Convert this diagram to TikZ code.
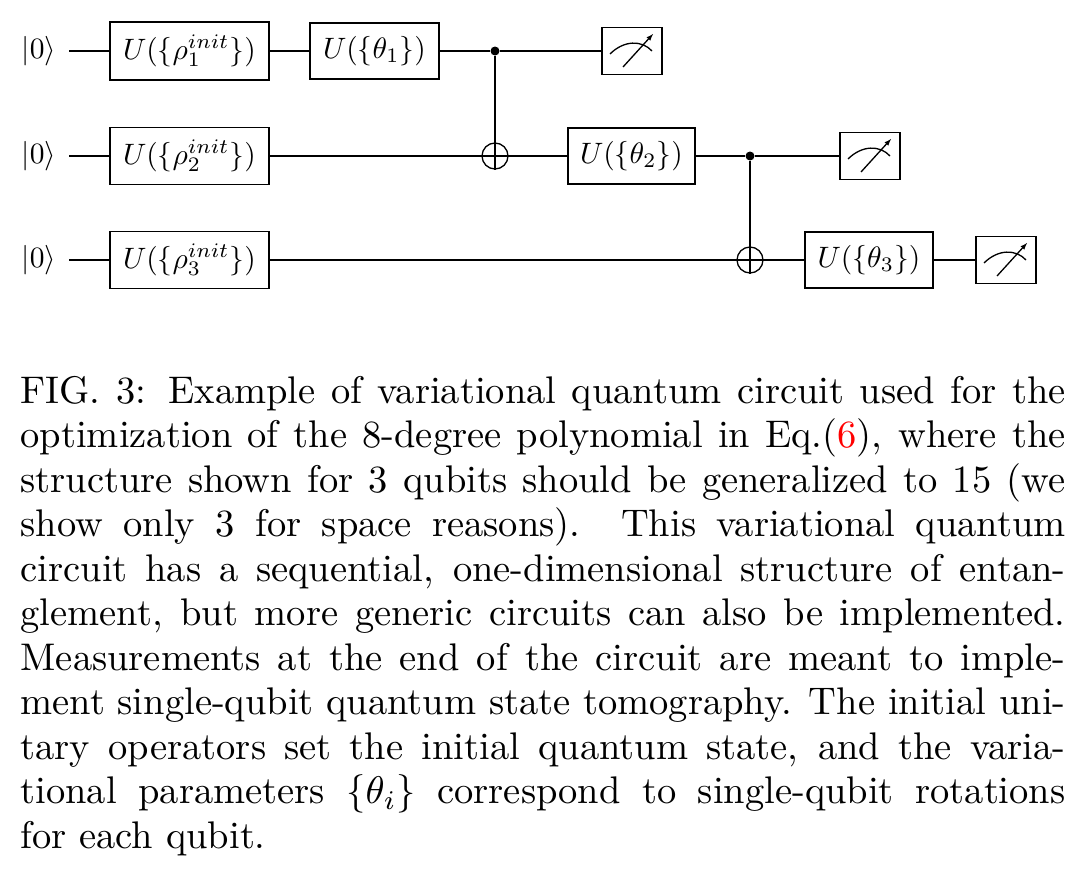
\documentclass[tikz,border=0pt]{standalone}
\usepackage{graphicx}
\usepackage{xcolor}
\newcommand{\qmath}[1]{\scalebox{2.95}{$#1$}}
\begin{document}
\begin{tikzpicture}[x=1pt,y=-1pt,line width=1.3pt,
  gate/.style={draw,rectangle,inner sep=0pt},
  meter/.style={draw,rectangle,minimum width=60pt,minimum height=47pt,inner sep=0pt},
  ket/.style={},
  capline/.style={anchor=base west,inner sep=0pt}]
\useasboundingbox (0,0) rectangle (1084,870);
% kets
\node[ket] (k1) at (39,51) {\qmath{|0\rangle}};
\node[ket] (k2) at (39,156) {\qmath{|0\rangle}};
\node[ket] (k3) at (39,260) {\qmath{|0\rangle}};
\coordinate (s1) at (69,51);\coordinate (s2) at (69,156);\coordinate (s3) at (69,260);
\node[gate,minimum width=159pt,minimum height=58pt] (r1) at (189.5,51) {\qmath{U(\{\rho_1^{init}\})}};
\node[gate,minimum width=159pt,minimum height=57pt] (r2) at (189.5,156) {\qmath{U(\{\rho_2^{init}\})}};
\node[gate,minimum width=159pt,minimum height=57pt] (r3) at (189.5,260) {\qmath{U(\{\rho_3^{init}\})}};
\node[gate,minimum width=129pt,minimum height=56pt] (t1) at (374.5,51) {\qmath{U(\{\theta_1\})}};
\node[gate,minimum width=127pt,minimum height=56pt] (t2) at (631.5,156) {\qmath{U(\{\theta_2\})}};
\node[gate,minimum width=128pt,minimum height=56pt] (t3) at (869,260) {\qmath{U(\{\theta_3\})}};
\node[meter] (m1) at (632,51) {};
\node[meter] (m2) at (870,156) {};
\node[meter] (m3) at (1006,260) {};
\foreach \m in {m1,m2,m3}{
  \draw ([shift={(-22pt,-3pt)}]\m.center) .. controls ([shift={(-8pt,11pt)}]\m.center) and ([shift={(10pt,11pt)}]\m.center) .. ([shift={(20pt,0pt)}]\m.center);
  \draw[-{latex}] ([shift={(-9pt,-16pt)}]\m.center) -- ([shift={(21pt,17pt)}]\m.center);
}
% controls
\node[circle,fill,inner sep=0pt,minimum size=9pt] (c1) at (495,51) {};
\node[circle,draw,inner sep=0pt,minimum size=26pt] (x1) at (495,156) {};
\node[circle,fill,inner sep=0pt,minimum size=9pt] (c2) at (750,156) {};
\node[circle,draw,inner sep=0pt,minimum size=26pt] (x2) at (750,260) {};
\draw (s1) -- (r1) -- (t1) -- (c1) -- (m1);
\draw (s2) -- (r2) -- (x1.west) (x1.east) -- (t2) -- (c2) -- (m2);
\draw (s3) -- (r3) -- (x2.west) (x2.east) -- (t3) -- (m3);
\draw (c1) -- (x1.south) (x1.west) -- (x1.east);
\draw (c2) -- (x2.south) (x2.west) -- (x2.east);
% caption
\foreach \t [count=\i from 0] in {
 {FIG. 3: Example of variational quantum circuit used for the},
 {optimization of the 8-degree polynomial in Eq.(\textcolor{red}{6}), where the},
 {structure shown for 3 qubits should be generalized to 15 (we},
 {show only 3 for space reasons).\ \ This variational quantum},
 {circuit has a sequential, one-dimensional structure of entan-},
 {glement, but more generic circuits can also be implemented.},
 {Measurements at the end of the circuit are meant to imple-},
 {ment single-qubit quantum state tomography. The initial uni-},
 {tary operators set the initial quantum state, and the varia-},
 {tional parameters $\{\theta_i\}$ correspond to single-qubit rotations}}
 \node[capline] (cap\i) at (20,{403+44.5*\i}) {\scalebox{3.85}{\makebox[271.4pt][s]{\t}}};
\node[capline] (cap10) at (20,848) {\scalebox{3.85}{for each qubit.}};
\end{tikzpicture}
\end{document}
